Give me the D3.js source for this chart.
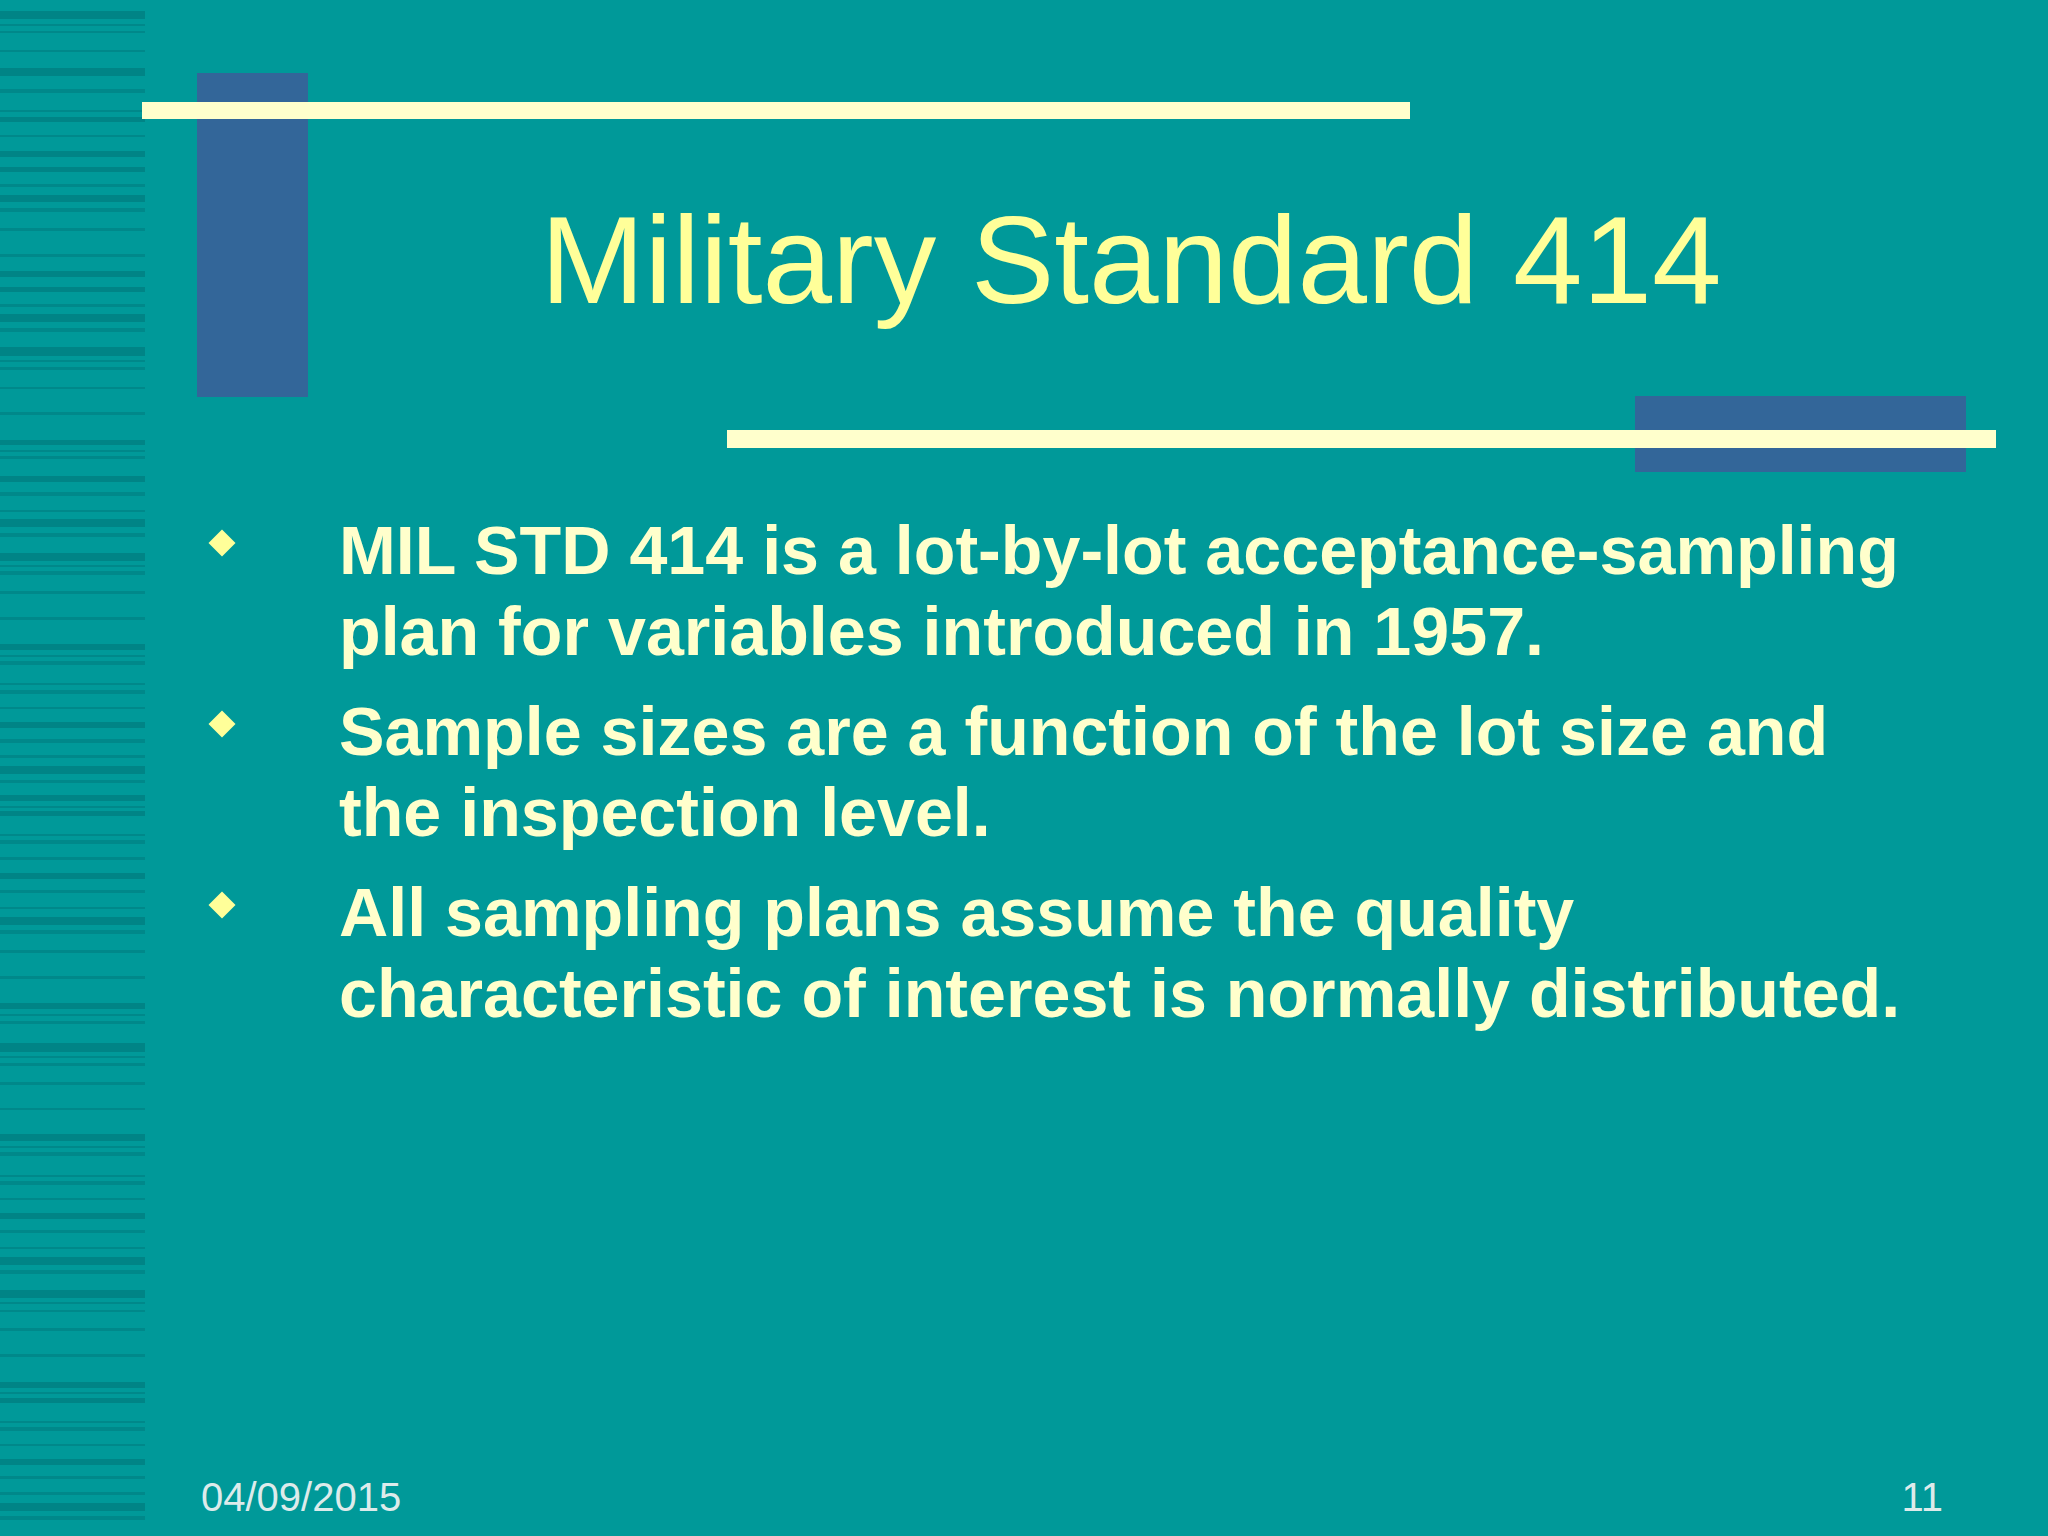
<!DOCTYPE html>
<html>
<head>
<meta charset="utf-8">
<script src="https://cdn.jsdelivr.net/npm/d3@7"></script>
<style>
  html, body { margin: 0; padding: 0; background: #009999; }
  svg { display: block; }
</style>
</head>
<body>
<div id="slide"></div>
<script>
// slide texts
const titleText = 'Military Standard 414';
const bullets = [
    ['MIL STD 414 is a lot-by-lot acceptance-sampling', 'plan for variables introduced in 1957.'],
    ['Sample sizes are a function of the lot size and', 'the inspection level.'],
    ['All sampling plans assume the quality', 'characteristic of interest is normally distributed.']
];
const footerDate = '04/09/2015';
const pageNumber = '11';

// dark bands of the left edge pattern, [top, bottom] in slide pixels
const stripeTops =    [11, 24, 31, 50, 68, 89, 110, 117, 135, 151, 167, 184, 195, 208, 228, 254, 271, 287, 304, 314, 328, 347, 360, 367, 387, 412, 440, 450, 456, 476, 492, 510, 519, 533, 553, 565, 571, 591, 617, 644, 655, 661, 683, 690, 707, 722, 739, 755, 766, 780, 795, 806, 811, 834, 840, 857, 873, 890, 907, 917, 930, 950, 976, 1003, 1014, 1021, 1043, 1056, 1063, 1082, 1108, 1134, 1146, 1152, 1175, 1181, 1198, 1213, 1230, 1247, 1257, 1270, 1290, 1302, 1310, 1328, 1354, 1382, 1392, 1398, 1421, 1427, 1444, 1459, 1476, 1492, 1503, 1516];
const stripeBottoms = [19, 26, 33, 52, 76, 93, 112, 122, 137, 157, 172, 187, 202, 212, 231, 257, 277, 292, 307, 322, 332, 356, 362, 370, 389, 415, 445, 452, 459, 482, 496, 512, 527, 537, 561, 567, 575, 594, 620, 650, 657, 665, 685, 694, 709, 728, 743, 758, 774, 783, 801, 807, 816, 836, 844, 860, 879, 893, 909, 925, 934, 953, 979, 1009, 1016, 1024, 1052, 1058, 1066, 1085, 1110, 1141, 1147, 1156, 1176, 1185, 1200, 1219, 1233, 1249, 1265, 1274, 1298, 1304, 1312, 1331, 1357, 1388, 1394, 1403, 1422, 1431, 1446, 1465, 1479, 1495, 1511, 1520];

const W = 2048, H = 1536;
const teal = '#009999', cream = '#FFFFCC', yellow = '#FFFF99', slateBlue = '#336699';

const svg = d3.select('#slide').append('svg')
    .attr('width', W)
    .attr('height', H);

svg.append('rect')
    .attr('width', W)
    .attr('height', H)
    .attr('fill', teal);

// left edge stripes
const y = d3.scaleLinear().domain([0, H]).range([0, H]);
const stripes = stripeTops.map((t, i) => ({ top: t, bottom: stripeBottoms[i] }));

svg.append('g')
    .selectAll('rect')
    .data(stripes)
    .enter().append('rect')
      .attr('x', 0)
      .attr('width', 145)
      .attr('y', d => y(d.top))
      .attr('height', d => Math.max(2, y(d.bottom) - y(d.top)))
      .attr('fill', '#008385')
      .attr('opacity', d => (d.bottom - d.top) > 4 ? 0.95 : 0.75);

// decorative blocks and rules
svg.append('rect')
    .attr('x', 197).attr('y', 73)
    .attr('width', 111).attr('height', 324)
    .attr('fill', slateBlue);
svg.append('rect')
    .attr('x', 1635).attr('y', 396)
    .attr('width', 331).attr('height', 76)
    .attr('fill', slateBlue);
svg.append('rect')
    .attr('x', 142).attr('y', 102)
    .attr('width', 1268).attr('height', 17)
    .attr('fill', cream);
svg.append('rect')
    .attr('x', 727).attr('y', 430)
    .attr('width', 1269).attr('height', 18)
    .attr('fill', cream);

// title
svg.append('text')
    .attr('x', 1131)
    .attr('y', 303)
    .attr('text-anchor', 'middle')
    .style('font-family', '"Liberation Sans", Arial, sans-serif')
    .style('font-size', '125px')
    .attr('fill', yellow)
    .text(titleText);

// bullets
const paraStart = 574, lineStep = 81, paraStep = 181;
const body = svg.append('g');

bullets.forEach((lines, i) => {
    const base = paraStart + i * paraStep;
    const cx = 222, cy = base - 31, r = 13.5;
    body.append('path')
        .attr('d', `M${cx},${cy - r}L${cx + r},${cy}L${cx},${cy + r}L${cx - r},${cy}Z`)
        .attr('fill', yellow);

    const t = body.append('text')
        .style('font-family', '"Liberation Sans", Arial, sans-serif')
        .style('font-size', '68.2px')
        .style('font-weight', 'bold')
        .attr('fill', cream);
    lines.forEach((line, j) => {
        t.append('tspan')
            .attr('x', 339)
            .attr('y', base + j * lineStep)
            .text(line);
    });
});

// footer
svg.append('text')
    .attr('x', 201)
    .attr('y', 1511)
    .style('font-family', '"Liberation Sans", Arial, sans-serif')
    .style('font-size', '40px')
    .attr('fill', '#DDEBEB')
    .text(footerDate);

svg.append('text')
    .attr('x', 1943)
    .attr('y', 1511)
    .attr('text-anchor', 'end')
    .style('font-family', '"Liberation Sans", Arial, sans-serif')
    .style('font-size', '40px')
    .attr('fill', '#DDEBEB')
    .text(pageNumber);
</script>
</body>
</html>
